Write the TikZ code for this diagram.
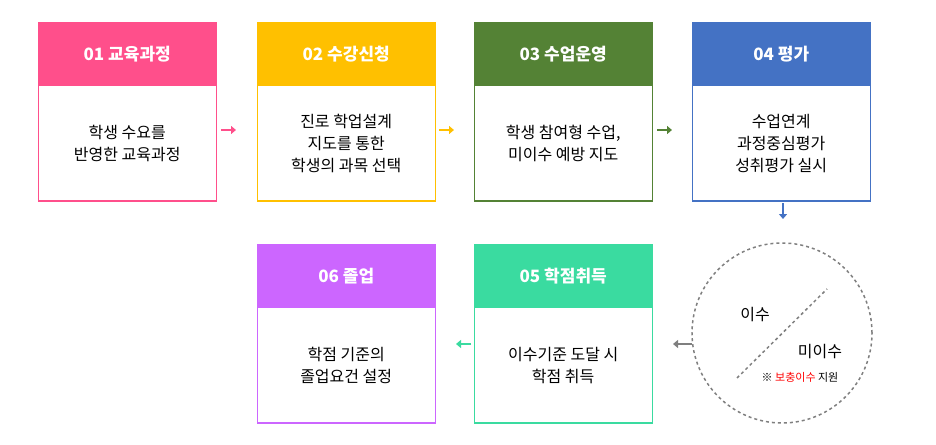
\documentclass[tikz,border=0pt]{standalone}
\usepackage{fontspec}
\setmainfont{Noto Sans CJK KR}
\usetikzlibrary{arrows.meta}
\definecolor{cpink}{HTML}{FF4F8B}
\definecolor{cyel}{HTML}{FFC000}
\definecolor{cgrn}{HTML}{548235}
\definecolor{cblu}{HTML}{4472C4}
\definecolor{cteal}{HTML}{3ADBA0}
\definecolor{cpur}{HTML}{CC66FF}
\definecolor{cgray}{HTML}{7F7F7F}
\tikzset{
 hdr/.style={fill=#1, minimum width=178pt, minimum height=63pt, inner sep=0pt, text=white, font=\fontsize{17pt}{20pt}\selectfont\bfseries},
 body/.style={draw=#1, minimum width=178pt, minimum height=115pt, inner sep=0pt, align=center, font=\fontsize{16pt}{22pt}\selectfont},
 conn/.style={draw=#1, line width=2pt, -{Triangle[length=5pt,width=8pt]}}
}
\begin{document}
\begin{tikzpicture}[x=1pt,y=-1pt]
\useasboundingbox (0,0) rectangle (936,444);
\def\mk#1#2#3#4#5{%
 \node[hdr=#3, anchor=north west] (h#1) at (#2) {#4};
 \node[body=#3, anchor=north] (b#1) at (h#1.south) {#5};
 \draw[#3] (h#1.north west) rectangle (b#1.south east);}
\mk{1}{38,22}{cpink}{01 교육과정}{학생 수요를\\반영한 교육과정}
\mk{2}{257,22}{cyel}{02 수강신청}{진로 학업설계\\지도를 통한\\학생의 과목 선택}
\mk{3}{474,22}{cgrn}{03 수업운영}{학생 참여형 수업,\\미이수 예방 지도}
\mk{4}{692,22}{cblu}{04 평가}{수업연계\\과정중심평가\\성취평가 실시}
\mk{6}{257,244}{cpur}{06 졸업}{학점 기준의\\졸업요건 설정}
\mk{5}{474,244}{cteal}{05 학점취득}{이수기준 도달 시\\학점 취득}
\node[draw=cgray, dashed, line width=1.5pt, circle, minimum size=180pt, inner sep=0pt] (c) at (782,333) {};
\coordinate (d1) at (737,378); \coordinate (d2) at (827,289);
\draw[cgray, dashed, line width=1.5pt] (d1) -- (d2);
\node[font=\fontsize{16pt}{18pt}\selectfont] (t1) at (755,315) {이수};
\node[font=\fontsize{16pt}{18pt}\selectfont] (t2) at (820,352) {미이수};
\node[font=\fontsize{11pt}{13pt}\selectfont] (t3) at (800,377) {※ \textcolor{red}{보충이수} 지원};
\coordinate (a12) at (221,130); \coordinate (a12e) at (236,130);
\draw[conn=cpink] (a12) -- (a12e);
\coordinate (a23) at (439,130); \coordinate (a23e) at (454,130);
\draw[conn=cyel] (a23) -- (a23e);
\coordinate (a34) at (657,130); \coordinate (a34e) at (672,130);
\draw[conn=cgrn] (a34) -- (a34e);
\coordinate (a4c) at (783,203); \coordinate (a4ce) at (783,219);
\draw[conn=cblu] (a4c) -- (a4ce);
\coordinate (ac5) at (692,344); \coordinate (ac5e) at (673,344);
\draw[conn=cgray] (ac5) -- (ac5e);
\coordinate (a56) at (471,344); \coordinate (a56e) at (456,344);
\draw[conn=cteal] (a56) -- (a56e);
\end{tikzpicture}
\end{document}
